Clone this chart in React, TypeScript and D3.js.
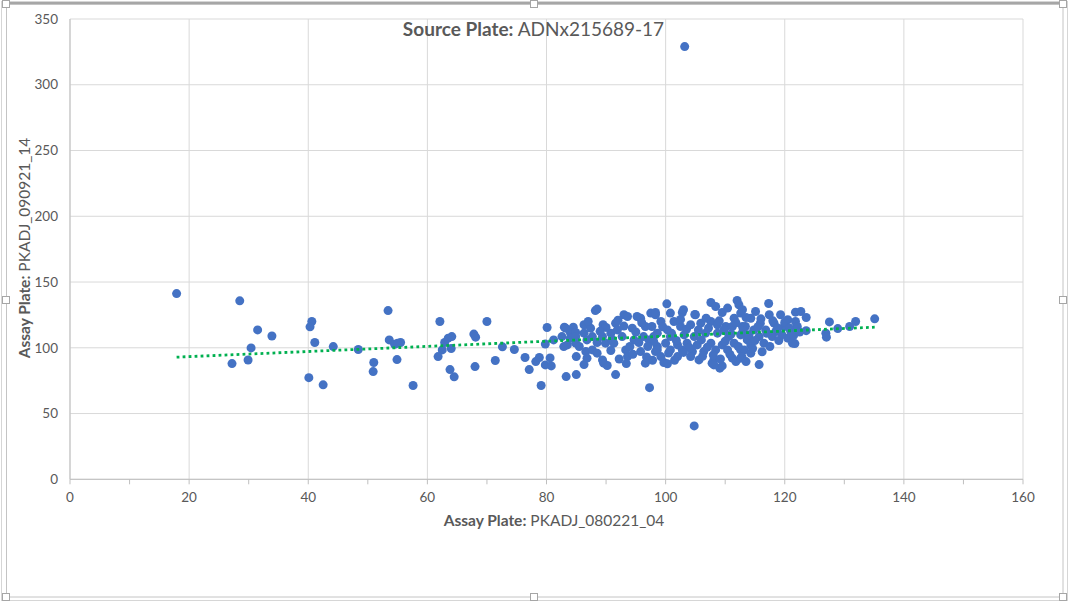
import React from "react";
import * as d3 from "d3";

const titleBold = "Source Plate:";
const titleRest = " ADNx215689-17";
const xTitleBold = "Assay Plate:";
const xTitleRest = " PKADJ_080221_04";
const yTitleBold = "Assay Plate:";
const yTitleRest = " PKADJ_090921_14";

const xTicks = [0, 20, 40, 60, 80, 100, 120, 140, 160];
const xMinorTicks = [0, 10, 20, 30, 40, 50, 60, 70, 80, 90, 100, 110, 120, 130, 140, 150, 160];
const yTicks = [0, 50, 100, 150, 200, 250, 300, 350];

// trendline: y = slope * x + intercept, drawn over data range
const trendSlope = 0.1945;
const trendIntercept = 89.4;

const points: [number, number][] = [
  [17.9, 141.2], [28.5, 135.7], [31.5, 113.6], [33.9, 109.0], [30.4, 99.9], [29.9, 90.7], [27.2, 88.0],
  [40.6, 120.0], [40.3, 115.9], [41.1, 104.0], [40.1, 77.3], [42.5, 71.8], [44.2, 100.9], [48.4, 98.7],
  [53.4, 128.3], [53.6, 106], [51.0, 88.8], [50.9, 81.9], [54.9, 91.0], [54.5, 102.7], [55.5, 104], [55.0, 103.5],
  [57.6, 71.3], [62.1, 120], [62.9, 104], [63.5, 107.3], [64.1, 108.5], [62.5, 98.4], [64.0, 99.4], [61.8, 93.3],
  [63.8, 83.4], [64.5, 77.9], [67.8, 110.4], [68.1, 108.1], [70.0, 120], [68.0, 85.7], [72.6, 100.7], [71.4, 90.3],
  [74.6, 98.7], [76.4, 92.6], [77.1, 83.4], [78.2, 89.5], [78.8, 92.6], [79.1, 71.3], [80.1, 115.4], [79.8, 102.8],
  [79.8, 87], [80.6, 92.3], [83.3, 78.1], [85.0, 79.6], [91.6, 79.6], [97.3, 69.7], [104.8, 40.6], [103.2, 329],
  [115.7, 87.2], [109.1, 84.5], [109.5, 86.2], [80.8, 86.2], [86.3, 87.2], [89.6, 88.3], [90.2, 86.5], [93.4, 88],
  [96.6, 88.3], [99.7, 88.8], [100.3, 87.8], [107.8, 88.3], [111.8, 89.5],
  [123.6, 123], [123.6, 113], [127.5, 119.7], [126.9, 111.1], [127, 108.1], [128.9, 114.6], [130.9, 116.2],
  [131.9, 120], [135.1, 122], [121.7, 103.2], [122.7, 127.6], [121.8, 127.1], [117.3, 133.7], [112.0, 136],
  [88.2, 128.3], [88.5, 129.4], [83.0, 115.7], [84.5, 115.7], [84.0, 111.6], [84.9, 111.6], [84.0, 107.3],
  [83.5, 102.2], [84.9, 103.5], [86.3, 117.5], [86.3, 111.1], [87.4, 114.9], [87.7, 108.5], [86.8, 106],
  [86.6, 97.1], [87.7, 98.4], [88.5, 95.9], [85.0, 93.3], [86.8, 92.1], [89.4, 90.8], [89.5, 117.5], [90.8, 111.1],
  [89.4, 108.5], [90.8, 97.9], [91.6, 118.7], [91.9, 113.6], [93.0, 125.1], [93.6, 123.8], [92.7, 108.5],
  [93.3, 98.4], [93.6, 93.3], [94.4, 114.9], [95.2, 123.8], [95.8, 122.5], [96.6, 116.2], [94.7, 106], [96.3, 108.5],
  [95.8, 97.1], [97.5, 126.4], [98.3, 125.1], [97.7, 116.2], [98.0, 108.5], [98.6, 100.9], [98.3, 97.1], [97.2, 106],
  [91.3, 103.5], [89.9, 103.5], [84.9, 108.5], [82.6, 108.5], [82.9, 100.9], [81.2, 106], [83.2, 114.9],
  [100.2, 133.4], [98.3, 126.8], [100.8, 126.4], [102.8, 126.8], [105.0, 125.1], [107.6, 134.4], [108.4, 131.4],
  [109.5, 126.8], [112.3, 132.7], [112.6, 126.4], [111.5, 122.5], [99.2, 120], [101.4, 120], [100.3, 113.6],
  [102.5, 116.2], [104.2, 117.5], [105.9, 118.7], [107.6, 120], [108.7, 117.5], [110.1, 116.2], [111.2, 116.2],
  [112.9, 116.2], [98.6, 111.1], [100.8, 108.5], [103.1, 109.8], [104.8, 108.5], [106.7, 111.1], [108.7, 111.1],
  [110.6, 108.5], [112.6, 109.8], [113.7, 106], [98.0, 104.7], [100.0, 103.5], [102.0, 102.2], [103.6, 103.5],
  [105.3, 102.2], [107.6, 103.5], [109.5, 102.2], [111.5, 103.5], [98.6, 98.4], [100.8, 98.4], [102.8, 98.4],
  [104.5, 97.1], [106.4, 97.1], [108.4, 98.4], [110.4, 98.4], [112.6, 98.4], [99.2, 93.3], [102.0, 93.3],
  [104.2, 93.3], [105.6, 90.8], [108.1, 90.8], [111.2, 92.1], [112.6, 92.1], [108.1, 87], [103, 129],
  [110.4, 130.2], [104.9, 125.3],
  [112.9, 128.9], [115.1, 127.6], [117.4, 125.1], [119.3, 125.1], [120.5, 121.3], [121.8, 120], [114.3, 122.5],
  [115.9, 118.7], [118.2, 118.7], [119.9, 116.2], [113.4, 116.2], [114.8, 113.6], [116.8, 113.6], [118.5, 112.4],
  [121.0, 112.4], [122.1, 116.2], [113.9, 108.0], [115.7, 108.5], [117.9, 108.5], [120.5, 107.3], [121.3, 103.5],
  [116.5, 103.5], [114.3, 102.2], [113.2, 98.4], [114.3, 95.9], [112.8, 93.3],
  [95.0, 112], [96.0, 119], [97.0, 101], [99.5, 116], [101.0, 111], [101.8, 105.5], [102.5, 121.5], [103.5, 114],
  [104.0, 100], [105.5, 113.5], [106.0, 106], [106.8, 122.5], [107.2, 115], [107.0, 100.5], [108.0, 94.5],
  [109.0, 120.5], [109.8, 113.5], [110.0, 105], [110.8, 95], [111.0, 110.5], [111.8, 119], [112.2, 101],
  [113.0, 113], [113.5, 123], [114.0, 110], [114.6, 99.5], [115.0, 105.5], [115.5, 116], [116.0, 122], [116.2, 97],
  [117.0, 111], [117.5, 101], [118.0, 120.5], [118.8, 115], [119.0, 105.5], [119.5, 110], [120.0, 119.5],
  [120.8, 115], [121.5, 109.5], [122.5, 112], [92.0, 121], [93.0, 116.5], [94.0, 101], [94.5, 95], [95.5, 104],
  [96.8, 93], [90.0, 115.5], [91.0, 106.5], [88.5, 104], [89.0, 112.5], [87.0, 120], [85.5, 101], [92.2, 91.5],
  [100.5, 96], [103.0, 96.5], [106.2, 93.5], [109.2, 91.5], [113.5, 89.5], [97.8, 90.5], [101.5, 90.5],
];

const W = 1071;
const H = 605;
const margin = { left: 70, right: 1023, top: 19, bottom: 479.3 };
const textColor = "#595959";
const font = "Lato, 'Open Sans', sans-serif";

export default function App() {
  const x = d3.scaleLinear().domain([0, 160]).range([margin.left, margin.right]);
  const y = d3.scaleLinear().domain([0, 350]).range([margin.bottom, margin.top]);

  const xExtent = d3.extent(points, (d) => d[0]) as [number, number];
  const trend = d3
    .line<number>()
    .x((d) => x(d))
    .y((d) => y(trendSlope * d + trendIntercept))(xExtent);

  const handles: [number, number][] = [
    [6, 4], [534, 4], [1063, 4], [6, 300], [1063, 300], [6, 597], [534, 597], [1063, 597],
  ];

  return (
    <svg
      width={W}
      height={H}
      style={{ position: "absolute", left: 0, top: 0, background: "#fff" }}
      fontFamily={font}
    >
      {/* outer frame */}
      <rect x={1.5} y={1.5} width={1066} height={599} fill="none" stroke="#d6d6d6" />
      <rect x={6.5} y={4.5} width={1056.5} height={592.5} fill="none" stroke="#c4c4c4" />
      <line x1={6} x2={1063} y1={3} y2={3} stroke="#a6a6a6" strokeWidth={2} />

      {/* gridlines */}
      {yTicks.map((t) => (
        <line key={"gy" + t} x1={margin.left} x2={margin.right} y1={y(t)} y2={y(t)} stroke="#d9d9d9" />
      ))}
      {xTicks.map((t) => (
        <line key={"gx" + t} x1={x(t)} x2={x(t)} y1={margin.top} y2={margin.bottom} stroke="#d9d9d9" />
      ))}
      {/* axes */}
      <line x1={margin.left} x2={margin.right} y1={y(0)} y2={y(0)} stroke="#bfbfbf" />
      <line x1={x(0)} x2={x(0)} y1={margin.top} y2={margin.bottom} stroke="#bfbfbf" />
      {xMinorTicks.map((t) => (
        <line key={"tx" + t} x1={x(t)} x2={x(t)} y1={y(0)} y2={y(0) + 5} stroke="#bfbfbf" />
      ))}

      {/* tick labels */}
      {yTicks.map((t) => (
        <text key={"ly" + t} x={58} y={y(t)} dy="0.35em" textAnchor="end" fontSize={13.5} fill={textColor}>
          {t}
        </text>
      ))}
      {xTicks.map((t) => (
        <text key={"lx" + t} x={x(t)} y={502} textAnchor="middle" fontSize={13.5} fill={textColor}>
          {t}
        </text>
      ))}

      {/* points */}
      {points.map((p, i) => (
        <circle key={i} cx={x(p[0])} cy={y(p[1])} r={4.5} fill="#4472C4" />
      ))}

      {/* trendline */}
      <path d={trend || ""} fill="none" stroke="#00B050" strokeWidth={2.8} strokeDasharray="2.8 3.2" />

      {/* titles */}
      <text x={533.5} y={36} textAnchor="middle" fontSize={19} fill={textColor}>
        <tspan fontWeight="bold">{titleBold}</tspan>
        <tspan>{titleRest}</tspan>
      </text>
      <text x={554} y={526} textAnchor="middle" fontSize={15.5} fill={textColor}>
        <tspan fontWeight="bold">{xTitleBold}</tspan>
        <tspan>{xTitleRest}</tspan>
      </text>
      <text
        transform={`translate(30, 248) rotate(-90)`}
        textAnchor="middle"
        fontSize={15.5}
        fill={textColor}
      >
        <tspan fontWeight="bold">{yTitleBold}</tspan>
        <tspan>{yTitleRest}</tspan>
      </text>

      {/* selection handles */}
      {handles.map((h, i) => (
        <rect key={"h" + i} x={h[0] - 3.5} y={h[1] - 3.5} width={7} height={7} fill="#fff" stroke="#a6a6a6" />
      ))}
    </svg>
  );
}
